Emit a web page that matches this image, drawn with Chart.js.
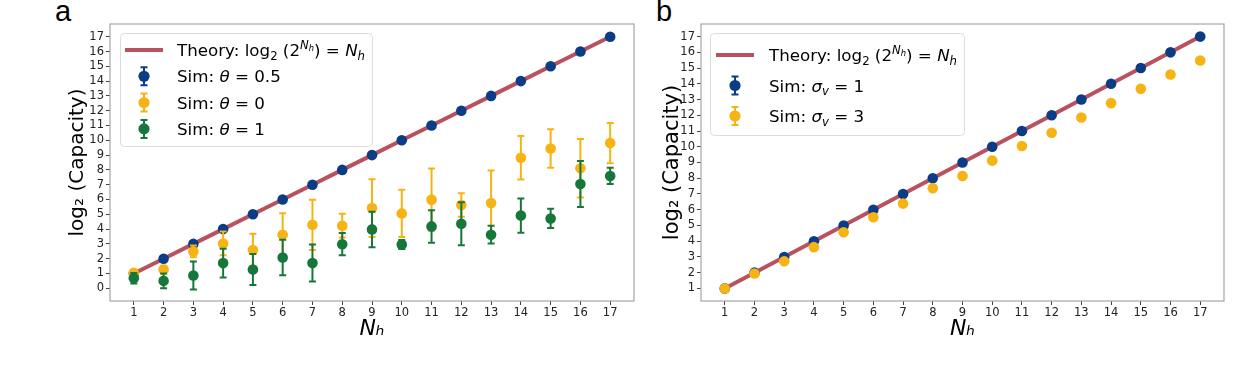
<!DOCTYPE html>
<html><head><meta charset="utf-8">
<script src="https://cdn.jsdelivr.net/npm/chart.js@4/dist/chart.umd.min.js"></script>
<style>
html,body{margin:0;padding:0;background:#fff}
body{width:1242px;height:375px;overflow:hidden;position:relative;font-family:"Liberation Sans",Arial,sans-serif}
.panel{position:absolute;top:0;height:375px}
#pa{left:0;width:640px}
#pb{left:640px;width:602px}
.lbl{position:absolute;font-size:29px;line-height:1;color:#000;font-family:"Liberation Sans",Arial,sans-serif}
</style></head><body>
<div class="lbl" style="left:55px;top:-3px">a</div>
<div class="lbl" style="left:656px;top:-3px">b</div>
<div class="panel" id="pa"><canvas id="ca"></canvas></div>
<div class="panel" id="pb"><canvas id="cb"></canvas></div>
<script>
// ---- data ----
const Nh = [1,2,3,4,5,6,7,8,9,10,11,12,13,14,15,16,17];
const xTicks = [1,2,3,4,5,6,7,8,9,10,11,12,13,14,15,16,17];
const yTicksA = [0,1,2,3,4,5,6,7,8,9,10,11,12,13,14,15,16,17];
const yTicksB = [1,2,3,4,5,6,7,8,9,10,11,12,13,14,15,16,17];
const theory = [1,2,3,4,5,6,7,8,9,10,11,12,13,14,15,16,17];

// panel a
const simTheta05 = [1,2,3,4,5,6,7,8,9,10,11,12,13,14,15,16,17];
const errTheta05 = [0.1,0.1,0.1,0.1,0.1,0.1,0.1,0.1,0.1,0.1,0.1,0.1,0.1,0.1,0.1,0.1,0.1];
const simTheta0 = [1.05,1.27,2.49,3.03,2.58,3.62,4.29,4.23,5.42,5.06,5.99,5.63,5.76,8.82,9.45,8.11,9.81];
const errTheta0 = [0.15,0.25,0.4,0.8,1.1,1.45,1.7,0.8,1.95,1.6,2.1,0.8,2.2,1.47,1.3,1.98,1.36];
const simTheta1 = [0.68,0.50,0.86,1.70,1.27,2.08,1.70,2.98,3.98,2.96,4.18,4.36,3.62,4.91,4.72,7.05,7.59];
const errTheta1 = [0.35,0.5,0.95,0.97,1.05,1.2,1.25,0.75,1.2,0.3,1.1,1.45,0.6,1.15,0.65,1.55,0.55];

// panel b
const simSigma1 = [1,2,3,4,5,6,7,8,9,10,11,12,13,14,15,16,17];
const errSigma1 = [0.05,0.05,0.05,0.05,0.05,0.05,0.05,0.05,0.05,0.05,0.05,0.05,0.05,0.05,0.05,0.05,0.05];
const simSigma3 = [1.0,1.95,2.73,3.62,4.57,5.52,6.39,7.36,8.14,9.12,10.05,10.89,11.86,12.77,13.68,14.59,15.48];
const errSigma3 = [0.05,0.05,0.05,0.05,0.05,0.05,0.05,0.05,0.05,0.05,0.05,0.05,0.05,0.05,0.05,0.05,0.05];

// labels (rich text segments: [text, style, level])
const labelTheory = [["Theory: log","n",0],["2","n","sub"],[" (2","n",0],["N","i","sup"],["h","i","supsub"],[") = ","n",0],["N","i",0],["h","i","sub"]];
const labelTheta05 = [["Sim: ","n",0],["\u03b8","i",0],[" = 0.5","n",0]];
const labelTheta0 = [["Sim: ","n",0],["\u03b8","i",0],[" = 0","n",0]];
const labelTheta1 = [["Sim: ","n",0],["\u03b8","i",0],[" = 1","n",0]];
const labelSigma1 = [["Sim: ","n",0],["\u03c3","i",0],["v","i","sub"],[" = 1","n",0]];
const labelSigma3 = [["Sim: ","n",0],["\u03c3","i",0],["v","i","sub"],[" = 3","n",0]];
const yTitle = "log\u2082 (Capacity)";
const xTitle = "N\u2095";

// ---- styles ----
const C_LINE = '#b9525f', C_BLUE = '#0b3d86', C_YEL = '#f6b314', C_GRN = '#17763a';
const FONT = "'DejaVu Sans', sans-serif";

function drawRich(ctx, segs, x, y, fs, draw) {
  let cx = x;
  const base = y + 0.36 * fs;
  for (const [t, st, lv] of segs) {
    let sc = 1, sh = 0;
    if (lv === 'sub') { sc = 0.7; sh = 0.22 * fs; }
    else if (lv === 'sup') { sc = 0.7; sh = -0.42 * fs; }
    else if (lv === 'supsub') { sc = 0.5; sh = -0.30 * fs; }
    ctx.font = (st === 'i' ? 'italic ' : '') + (fs * sc).toFixed(2) + 'px ' + FONT;
    if (draw) { ctx.fillStyle = '#000'; ctx.textBaseline = 'alphabetic'; ctx.textAlign = 'left'; ctx.fillText(t, cx, base + sh); }
    cx += ctx.measureText(t).width;
  }
  return cx - x;
}

const richLegend = {
  id: 'richLegend',
  afterDraw(chart, args, o) {
    if (!o || !o.items) return;
    const ctx = chart.ctx, ca = chart.chartArea;
    const L = ca.left + o.dx, T = ca.top + o.dy;
    ctx.save();
    let maxW = 0;
    o.items.forEach(it => { maxW = Math.max(maxW, drawRich(ctx, it.label, 0, 0, o.fontSize, false)); });
    const W = o.textX + maxW + o.padR, H = o.height;
    ctx.beginPath();
    ctx.roundRect(L + 0.5, T + 0.5, W, H, 4);
    ctx.fillStyle = 'rgba(255,255,255,0.8)';
    ctx.fill();
    ctx.strokeStyle = '#dcdcdc'; ctx.lineWidth = 1; ctx.stroke();
    o.items.forEach((it, i) => {
      const cy = T + o.firstRow + i * o.rowGap;
      const sx = L + o.sampleX;
      if (it.kind === 'line') {
        ctx.strokeStyle = it.color; ctx.lineWidth = 4; ctx.lineCap = 'butt';
        ctx.beginPath(); ctx.moveTo(sx - 19, cy); ctx.lineTo(sx + 19, cy); ctx.stroke();
      } else {
        ctx.strokeStyle = it.color; ctx.lineWidth = 2;
        ctx.beginPath();
        ctx.moveTo(sx, cy - 9); ctx.lineTo(sx, cy + 9);
        ctx.moveTo(sx - 3.5, cy - 9); ctx.lineTo(sx + 3.5, cy - 9);
        ctx.moveTo(sx - 3.5, cy + 9); ctx.lineTo(sx + 3.5, cy + 9);
        ctx.stroke();
        ctx.fillStyle = it.color; ctx.beginPath(); ctx.arc(sx, cy, 5.6, 0, Math.PI * 2); ctx.fill();
      }
      drawRich(ctx, it.label, L + o.textX, cy, o.fontSize, true);
    });
    ctx.restore();
  }
};

const errorBars = {
  id: 'errorBars',
  beforeDatasetDraw(chart, args) {
    const ds = chart.data.datasets[args.index];
    if (!ds.errors) return;
    const ctx = chart.ctx, xs = chart.scales.x, ys = chart.scales.y;
    ctx.save();
    ctx.strokeStyle = ds.backgroundColor; ctx.lineWidth = 2;
    ds.data.forEach((p, i) => {
      const e = ds.errors[i];
      const px = xs.getPixelForValue(p.x);
      const y1 = ys.getPixelForValue(p.y - e), y2 = ys.getPixelForValue(p.y + e);
      ctx.beginPath();
      ctx.moveTo(px, y1); ctx.lineTo(px, y2);
      ctx.moveTo(px - 3.5, y1); ctx.lineTo(px + 3.5, y1);
      ctx.moveTo(px - 3.5, y2); ctx.lineTo(px + 3.5, y2);
      ctx.stroke();
    });
    ctx.restore();
  }
};

const frame = {
  id: 'frame',
  afterDatasetsDraw(chart) {
    const ctx = chart.ctx, a = chart.chartArea;
    ctx.save();
    ctx.strokeStyle = '#a6a6a6'; ctx.lineWidth = 1.2;
    ctx.strokeRect(a.left, a.top, a.right - a.left, a.bottom - a.top);
    ctx.restore();
  }
};

function pts(ys) { return Nh.map((x, i) => ({ x: x, y: ys[i] })); }

function scatterDs(ys, errs, color, order) {
  return { type: 'scatter', data: pts(ys), errors: errs, backgroundColor: color, borderColor: color,
    pointRadius: 5.3, pointBorderWidth: 0, pointHoverRadius: 5.3, showLine: false, order: order };
}

function makeChart(id, cfg) {
  return new Chart(document.getElementById(id), {
    type: 'scatter',
    data: { datasets: [
      { type: 'line', data: pts(theory), borderColor: C_LINE, borderWidth: 4, pointRadius: 0, fill: false, order: 10 }
    ].concat(cfg.series) },
    options: {
      responsive: true, maintainAspectRatio: false, animation: false, events: [],
      layout: { padding: { left: cfg.padL, right: cfg.padR, top: 24, bottom: 0 } },
      plugins: { legend: { display: false }, tooltip: { enabled: false }, richLegend: cfg.legend },
      scales: {
        x: {
          type: 'linear', min: 0.2, max: 17.8,
          afterBuildTicks: s => { s.ticks = xTicks.map(v => ({ value: v })); },
          afterFit: s => { s.height = 74; },
          grid: { drawOnChartArea: false, drawTicks: true, tickLength: 4, tickColor: '#444', tickWidth: 1 },
          border: { display: false },
          ticks: { autoSkip: false, maxRotation: 0, padding: 1, color: '#222', font: { family: FONT, size: 11.5 }, callback: v => String(v) },
          title: { display: true, text: xTitle, color: '#000', font: { family: FONT, size: 22, style: 'italic' }, padding: { top: 0, bottom: 33 } }
        },
        y: {
          type: 'linear', min: cfg.yMin, max: cfg.yMax,
          afterBuildTicks: s => { s.ticks = cfg.yTicks.map(v => ({ value: v })); },
          afterFit: s => { s.width = cfg.yW; },
          grid: { drawOnChartArea: false, drawTicks: true, tickLength: 4, tickColor: '#444', tickWidth: 1 },
          border: { display: false },
          ticks: { autoSkip: false, padding: 2, color: '#222', font: { family: FONT, size: 11.5 }, callback: v => String(v) },
          title: { display: true, text: yTitle, color: '#000', font: { family: FONT, size: cfg.yTitleSize }, padding: { top: 0, bottom: 0 } }
        }
      }
    },
    plugins: [errorBars, frame, richLegend]
  });
}

makeChart('ca', {
  padL: 66, padR: 6, yW: 44, yMin: -0.86, yMax: 17.86, yTicks: yTicksA, yTitleSize: 20,
  series: [
    scatterDs(simTheta05, errTheta05, C_BLUE, 3),
    scatterDs(simTheta0, errTheta0, C_YEL, 2),
    scatterDs(simTheta1, errTheta1, C_GRN, 1)
  ],
  legend: { dx: 10, dy: 9, height: 113, firstRow: 17, rowGap: 26.3, sampleX: 24, textX: 57, padR: 7, fontSize: 16.7,
    items: [
      { kind: 'line', color: C_LINE, label: labelTheory },
      { kind: 'err', color: C_BLUE, label: labelTheta05 },
      { kind: 'err', color: C_YEL, label: labelTheta0 },
      { kind: 'err', color: C_GRN, label: labelTheta1 }
    ] }
});

makeChart('cb', {
  padL: 20, padR: 18, yW: 41, yMin: 0.2, yMax: 17.8, yTicks: yTicksB, yTitleSize: 21,
  series: [
    scatterDs(simSigma1, errSigma1, C_BLUE, 3),
    scatterDs(simSigma3, errSigma3, C_YEL, 2)
  ],
  legend: { dx: 9, dy: 9, height: 102, firstRow: 22, rowGap: 30.5, sampleX: 25, textX: 59, padR: 7, fontSize: 16.7,
    items: [
      { kind: 'line', color: C_LINE, label: labelTheory },
      { kind: 'err', color: C_BLUE, label: labelSigma1 },
      { kind: 'err', color: C_YEL, label: labelSigma3 }
    ] }
});
</script>
</body></html>
